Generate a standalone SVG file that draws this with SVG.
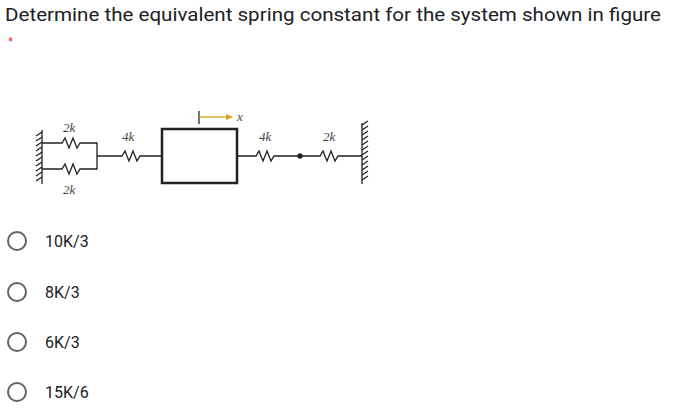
<svg xmlns="http://www.w3.org/2000/svg" width="683" height="408" viewBox="0 0 683 408">
<style>
.t{font-family:Roboto,"Liberation Sans",sans-serif;fill:#202124}
.l{font-family:"Liberation Serif",serif;font-style:italic;font-size:13px;fill:#444}
.w{stroke:#222;stroke-width:1.3;fill:none}
.r{fill:none;stroke:#5f6368;stroke-width:2}
</style>
<rect width="683" height="408" fill="#fff"/>
<text class="t" x="5" y="21" font-size="18" textLength="656" lengthAdjust="spacingAndGlyphs">Determine the equivalent spring constant for the system shown in figure</text>
<text x="8" y="46" font-size="13" fill="#d93025" font-family="Liberation Sans,sans-serif">*</text>
<g id="walls" class="w">
<line x1="42" y1="130" x2="42" y2="184"/>
<path d="M42,132 l-6,4 M42,137 l-6,4 M42,142 l-6,4 M42,147 l-6,4 M42,152 l-6,4 M42,157 l-6,4 M42,162 l-6,4 M42,167 l-6,4 M42,172 l-6,4 M42,177 l-6,4"/>
<line x1="362" y1="123" x2="362" y2="184"/>
<path d="M362,125 l6,-4 M362,130 l6,-4 M362,135 l6,-4 M362,140 l6,-4 M362,145 l6,-4 M362,150 l6,-4 M362,155 l6,-4 M362,160 l6,-4 M362,165 l6,-4 M362,170 l6,-4 M362,175 l6,-4 M362,180 l6,-4"/>
</g>
<g id="connectors" class="w">
<path d="M42,143 H62 l3,-5 l4,10 l4,-10 l4,10 l3,-5 H97 V169 H80 l-3,5 l-4,-10 l-4,10 l-4,-10 l-3,5 H42"/>
<path d="M97,156 H122 l3,-5 l4,10 l4,-10 l4,10 l3,-5 H162"/>
<path d="M237,156 H256 l3,-5 l4,10 l4,-10 l4,10 l3,-5 H320 l3,-5 l4,10 l4,-10 l4,10 l3,-5 H362"/>
<circle cx="300" cy="156" r="2" fill="#222"/>
<line x1="199" y1="111" x2="199" y2="124"/>
<line x1="199" y1="117" x2="226" y2="117" stroke="#d4a017"/>
<path d="M226,114 L233,117 L226,120 Z" fill="#d4a017" stroke="none"/>
</g>
<g id="mass"><rect x="162" y="129" width="75" height="54" fill="none" stroke="#222" stroke-width="2.5"/></g>
<g id="labels">
<text class="l" x="63" y="132">2k</text>
<text class="l" x="63" y="194">2k</text>
<text class="l" x="122" y="141">4k</text>
<text class="l" x="259" y="141">4k</text>
<text class="l" x="323" y="141">2k</text>
<text class="l" x="237" y="121">x</text>
</g>
<g id="options">
<circle class="r" cx="17" cy="241" r="9"/><text class="t" x="45" y="247" font-size="16">10K/3</text>
<circle class="r" cx="17" cy="292" r="9"/><text class="t" x="45" y="298" font-size="16">8K/3</text>
<circle class="r" cx="17" cy="342" r="9"/><text class="t" x="45" y="348" font-size="16">6K/3</text>
<circle class="r" cx="17" cy="392" r="9"/><text class="t" x="45" y="398" font-size="16">15K/6</text>
</g>
</svg>
